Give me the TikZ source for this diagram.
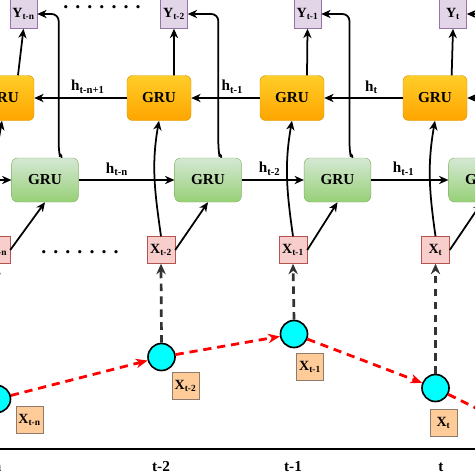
\documentclass[tikz,border=0pt]{standalone}
\usepackage{fontspec}
\setmainfont{Liberation Serif}
\usetikzlibrary{arrows,arrows.meta,positioning,shapes}

\definecolor{bwdtop}{HTML}{FFCD28}
\definecolor{bwdbot}{HTML}{FFA500}
\definecolor{bwdline}{HTML}{D79B00}
\definecolor{fwdtop}{HTML}{D5E8D4}
\definecolor{fwdbot}{HTML}{97D077}
\definecolor{fwdline}{HTML}{82B366}
\definecolor{outfill}{HTML}{E1D5E7}
\definecolor{outline}{HTML}{9673A6}
\definecolor{infill}{HTML}{F8CECC}
\definecolor{inline}{HTML}{B85450}
\definecolor{obsfill}{HTML}{FFCC99}
\definecolor{obsline}{HTML}{8C7A6B}
\definecolor{feedgray}{HTML}{333333}
\definecolor{pointfill}{HTML}{00FFFF}
\definecolor{trendred}{HTML}{FF0000}
\newcommand{\dotrow}{.\hspace{6pt}.\hspace{6pt}.\hspace{6pt}.\hspace{6pt}.\hspace{6pt}.\hspace{6pt}.}

\begin{document}
\begin{tikzpicture}[x=0.03cm, y=-0.03cm]
\tikzstyle{every node}=[font=\bfseries]
\tikzstyle{grub}=[rectangle, rounded corners=5pt, draw=bwdline, top color=bwdtop, bottom color=bwdbot,
minimum width=1.92cm, minimum height=1.35cm, font=\bfseries\fontsize{13}{14}\selectfont]
\tikzstyle{gruf}=[rectangle, rounded corners=5pt, draw=fwdline, top color=fwdtop, bottom color=fwdbot,
minimum width=2cm, minimum height=1.32cm, font=\bfseries\fontsize{13}{14}\selectfont]
\tikzstyle{outbox}=[rectangle, draw=outline, fill=outfill, minimum width=0.81cm, minimum height=0.87cm,
inner sep=1pt, font=\bfseries\fontsize{12}{12}\selectfont]
\tikzstyle{inbox}=[rectangle, draw=inline, fill=infill, minimum width=0.84cm, minimum height=0.81cm,
inner sep=1pt, font=\bfseries\fontsize{12}{12}\selectfont]
\tikzstyle{obsbox}=[rectangle, draw=obsline, fill=obsfill, minimum size=0.81cm,
inner sep=1pt, font=\bfseries\fontsize{12}{12}\selectfont]
\tikzstyle{point}=[circle, draw=black, line width=1.4pt, fill=pointfill, minimum size=0.81cm, inner sep=0pt]
\tikzstyle{flow}=[-{Stealth[length=8pt, width=7pt, inset=2.5pt]}, line width=1.5pt]
\tikzstyle{feed}=[-{Stealth[length=9pt, width=8pt, inset=3pt]}, line width=2.3pt, draw=feedgray,
dash pattern=on 6.5pt off 4.5pt]
\tikzstyle{trend}=[-{Stealth[length=10pt, width=8pt, inset=3pt]}, line width=2.4pt, draw=trendred,
dash pattern=on 7pt off 5pt]
\tikzstyle{hlabel}=[above, font=\bfseries\fontsize{13}{14}\selectfont]

\useasboundingbox (0,0) rectangle (474,474);

% backward GRU row
\node[grub] at (2, 98) (o1) {GRU};
\node[grub] at (159, 98) (o2) {GRU};
\node[grub] at (292, 98) (o3) {GRU};
\node[grub] at (435, 98) (o4) {GRU};

% forward GRU row
\node[gruf] at (45, 180) (g1) {GRU};
\node[gruf] at (208, 180) (g2) {GRU};
\node[gruf] at (337.5, 180) (g3) {GRU};
\node[gruf] at (482, 180) (g4) {GRU};

% outputs
\node[outbox] at (23.5, 14) (y1) {Y\textsubscript{t-n}};
\node[outbox] at (174, 14) (y2) {Y\textsubscript{t-2}};
\node[outbox] at (307.5, 14) (y3) {Y\textsubscript{t-1}};
\node[outbox] at (453, 14) (y4) {Y\textsubscript{t}};

% inputs
\node[inbox] at (-4, 250) (x1) {X\textsubscript{t-n}};
\node[inbox] at (161, 250) (x2) {X\textsubscript{t-2}};
\node[inbox] at (293, 250) (x3) {X\textsubscript{t-1}};
\node[inbox] at (435.5, 250) (x4) {X\textsubscript{t}};

% series
\node[point] at (-3, 399) (c1) {};
\node[point] at (161.5, 357) (c2) {};
\node[point] at (294, 334) (c3) {};
\node[point] at (435.5, 388) (c4) {};

\node[obsbox] at (29.5, 419.5) (p1) {X\textsubscript{t-n}};
\node[obsbox] at (185.5, 385.5) (p2) {X\textsubscript{t-2}};
\node[obsbox] at (310, 367) (p3) {X\textsubscript{t-1}};
\node[obsbox] at (443.5, 422.5) (p4) {X\textsubscript{t}};

\node[font=\bfseries\fontsize{17}{17}\selectfont] at (102, 7) (dotsy) {\dotrow};
\node[font=\bfseries\fontsize{17}{17}\selectfont] at (80, 252) (dotsx) {\dotrow};

\coordinate (orright) at (500, 98);
\coordinate (grleft) at (-30, 180);
\coordinate (redend) at (500, 420);

% hidden states
\draw[flow] (orright) -- (o4.east);
\draw[flow] (o4.west) -- node[hlabel, pos=0.4] {h\textsubscript{t}} (o3.east);
\draw[flow] (o3.west) -- node[hlabel, pos=0.4] {h\textsubscript{t-1}} (o2.east);
\draw[flow] (o2.west) -- node[hlabel, pos=0.42] {h\textsubscript{t-n+1}} (o1.east);

\draw[flow] (grleft) -- (g1.west);
\draw[flow] (g1.east) -- node[hlabel, pos=0.4] {h\textsubscript{t-n}} (g2.west);
\draw[flow] (g2.east) -- node[hlabel, pos=0.45] {h\textsubscript{t-2}} (g3.west);
\draw[flow] (g3.east) -- node[hlabel, pos=0.42] {h\textsubscript{t-1}} (g4.west);

% outputs from both directions
\draw[flow] ([xshift=0.48cm]o1.north) -- (y1.south);
\draw[flow] ([xshift=0.45cm]o2.north) -- (y2.south);
\draw[flow] ([xshift=0.45cm]o3.north) -- (y3.south);
\draw[flow] ([xshift=0.5cm]o4.north) -- (y4.south);

\draw[flow, rounded corners=6pt] ([xshift=0.5cm]g1.north) to[out=90, in=-80] ++(-3,-8) |- (y1.east);
\draw[flow, rounded corners=6pt] ([xshift=0.4cm]g2.north) to[out=90, in=-80] ++(-3,-8) |- (y2.east);
\draw[flow, rounded corners=6pt] ([xshift=0.45cm]g3.north) to[out=90, in=-80] ++(-3,-8) |- (y3.east);
\draw[flow, rounded corners=6pt] ([xshift=0.45cm]g4.north) to[out=90, in=-80] ++(-3,-8) |- (y4.east);

% inputs into both directions
\draw[flow] (x1.north) to[out=98, in=-100] (o1.south);
\draw[flow] (x2.north) to[out=98, in=-100] (o2.south);
\draw[flow] (x3.north) to[out=98, in=-100] (o3.south);
\draw[flow] (x4.north) to[out=98, in=-100] (o4.south);

\draw[flow] (x1.east) -- (g1.south);
\draw[flow] (x2.east) -- (g2.south);
\draw[flow] (x3.east) -- (g3.south);
\draw[flow] (x4.east) -- (g4.south);

% sampling
\draw[feed] (c1.north) -- (x1.south);
\draw[feed] (c2.north) -- (x2.south);
\draw[feed] (c3.north) -- (x3.south);
\draw[feed] (c4.north) -- (x4.south);

\draw[trend] (c1) -- (c2);
\draw[trend] (c2) -- (c3);
\draw[trend] (c3) -- (c4);
\draw[trend, -] (c4) -- (redend);

% time axis
\draw[line width=1.5pt] (-10, 449) -- (490, 449);
\node[font=\bfseries\fontsize{13}{14}\selectfont] at (-8, 467) (tn) {t-n};
\node[font=\bfseries\fontsize{13}{14}\selectfont] at (161, 467) (t2) {t-2};
\node[font=\bfseries\fontsize{13}{14}\selectfont] at (293, 467) (t1) {t-1};
\node[font=\bfseries\fontsize{13}{14}\selectfont] at (441, 467) (t0) {t};

\end{tikzpicture}
\end{document}
